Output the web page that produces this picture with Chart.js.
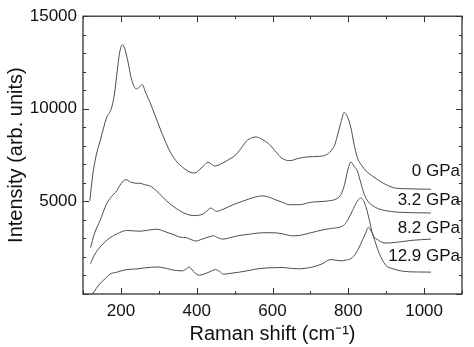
<!DOCTYPE html>
<html>
<head>
<meta charset="utf-8">
<script src="https://cdn.jsdelivr.net/npm/chart.js@4/dist/chart.umd.min.js"></script>
<style>
  html, body { margin: 0; padding: 0; background: #fff; }
  #wrap { width: 474px; height: 347px; }
</style>
</head>
<body>
<div id="wrap"><canvas id="raman"></canvas></div>
<script>
// ============================================
// DATA
// ============================================
const seriesNames = ['0 GPa', '3.2 GPa', '8.2 GPa', '12.9 GPa'];

const shift0 = [118,126,135,145,162,175,183,189,197,204,210,218,228,241,250,257,263,268,276,290,303,316,329,345,364,380,390,400,408,420,430,440,447,460,478,504,520,531,545,557,570,592,610,623,645,670,690,720,740,754,765,772,781,789,797,807,815,824,835,847,865,882,900,925,960,1000,1018];
const int0 = [5036,6480,7500,8250,9500,10030,10800,11820,13070,13460,13250,12600,11600,11070,11200,11300,11000,10750,10390,9650,8960,8300,7714,7200,6820,6600,6535,6570,6730,6950,7110,7000,6910,6980,7180,7536,7950,8250,8430,8480,8380,8070,7650,7360,7200,7330,7400,7430,7500,7714,8100,8610,9300,9800,9600,8964,8100,7360,6950,6640,6350,6107,5900,5714,5680,5660,5660];

const shift32 = [120,130,145,162,175,189,200,213,225,240,250,263,276,294,307,320,337,355,375,395,405,417,428,437,445,452,470,496,520,539,557,575,592,610,630,645,671,700,750,770,781,790,798,807,815,824,833,842,852,864,880,899,930,970,1018];
const int32 = [2500,3250,3964,4857,5250,5570,5950,6180,6050,5980,5980,5900,5840,5570,5300,5036,4750,4500,4300,4232,4250,4320,4500,4640,4550,4460,4580,4820,5000,5140,5250,5300,5220,5070,4920,4820,4820,4950,5036,5150,5390,5900,6640,7125,6900,6640,6000,5390,5000,4770,4600,4500,4420,4390,4375];

const shift82 = [120,130,145,160,171,190,215,250,270,294,320,340,355,365,374,385,399,412,425,435,445,455,469,490,513,540,566,590,610,630,653,671,700,732,755,776,790,800,811,822,832,840,847,856,864,880,899,930,970,1018];
const int82 = [1640,2100,2536,2850,3036,3250,3430,3390,3440,3500,3340,3200,3070,3050,3036,2940,2860,2950,3036,3100,3143,3050,2964,3050,3160,3230,3300,3310,3300,3230,3143,3160,3300,3460,3540,3600,3750,4050,4500,4950,5180,5050,4680,3950,3250,2900,2750,2800,2900,2964];

const shift129 = [125,135,145,160,171,190,215,240,263,298,320,338,362,372,380,388,395,408,420,434,450,460,471,490,513,540,566,600,627,650,671,690,706,730,754,781,795,807,820,829,838,845,853,860,864,872,882,899,920,943,980,1018];
const int129 = [0,300,570,850,1070,1180,1320,1350,1410,1460,1380,1290,1250,1350,1460,1300,1140,1018,1080,1196,1320,1220,1070,1120,1180,1280,1375,1420,1430,1380,1360,1400,1460,1620,1860,1790,1840,1910,2200,2536,2950,3250,3600,3400,3250,2750,2180,1550,1350,1230,1190,1180];

// intensity at which each pressure label sits (right-hand side)
const labelLevels = [6640, 5036, 3536, 2036];

const FONT = "'Liberation Sans', Arial, sans-serif";
const INK = '#333';

function toPoints(xs, ys) {
  return xs.map((x, i) => ({ x: x, y: ys[i] }));
}

// ============================================
// FRAME + INWARD TICKS + PRESSURE LABELS
// ============================================
const framePlugin = {
  id: 'frame',
  afterDraw(chart) {
    const { ctx, chartArea: a, scales } = chart;
    ctx.save();
    ctx.strokeStyle = INK;
    ctx.lineWidth = 1.3;
    ctx.strokeRect(a.left, a.top, a.right - a.left, a.bottom - a.top);

    ctx.lineWidth = 1;
    ctx.beginPath();
    scales.x.ticks.forEach(t => {
      const px = Math.round(scales.x.getPixelForValue(t.value)) + 0.5;
      const len = t.value % 200 === 0 ? 6 : 3;
      ctx.moveTo(px, a.bottom); ctx.lineTo(px, a.bottom - len);
      ctx.moveTo(px, a.top); ctx.lineTo(px, a.top + len);
    });
    scales.y.ticks.forEach(t => {
      const py = Math.round(scales.y.getPixelForValue(t.value)) + 0.5;
      const len = t.value % 5000 === 0 ? 6 : 3;
      ctx.moveTo(a.left, py); ctx.lineTo(a.left + len, py);
      ctx.moveTo(a.right, py); ctx.lineTo(a.right - len, py);
    });
    ctx.stroke();

    ctx.fillStyle = '#111';
    ctx.font = '17px ' + FONT;
    ctx.textAlign = 'right';
    ctx.textBaseline = 'middle';
    seriesNames.forEach((name, i) => {
      ctx.fillText(name, a.right - 2, scales.y.getPixelForValue(labelLevels[i]));
    });
    ctx.restore();
  }
};

// ============================================
// CHART
// ============================================
function initRamanChart() {
  const ctx = document.getElementById('raman');

  const data = {
    datasets: [
      { label: seriesNames[0], data: toPoints(shift0, int0) },
      { label: seriesNames[1], data: toPoints(shift32, int32) },
      { label: seriesNames[2], data: toPoints(shift82, int82) },
      { label: seriesNames[3], data: toPoints(shift129, int129) }
    ].map(ds => Object.assign(ds, {
      borderColor: '#4d4d4d',
      borderWidth: 1,
      pointRadius: 0,
      fill: false,
      cubicInterpolationMode: 'monotone'
    }))
  };

  new Chart(ctx, {
    type: 'line',
    data: data,
    plugins: [framePlugin],
    options: {
      responsive: true,
      maintainAspectRatio: false,
      animation: false,
      layout: { padding: { top: 14, right: 12, left: 0, bottom: 0 } },
      plugins: {
        legend: { display: false },
        tooltip: { enabled: false }
      },
      scales: {
        x: {
          type: 'linear',
          min: 100,
          max: 1100,
          afterFit: s => { s.height = 53; },
          grid: { display: false, drawTicks: false },
          border: { display: false },
          ticks: {
            stepSize: 100,
            autoSkip: false,
            maxRotation: 0,
            padding: 7,
            color: '#111',
            font: { family: FONT, size: 17 },
            callback: v => (v % 200 === 0 ? v : '')
          },
          title: {
            display: true,
            text: 'Raman shift (cm\u207B\u00B9)',
            color: '#111',
            font: { family: FONT, size: 20 },
            padding: { top: 0, bottom: 1 }
          }
        },
        y: {
          min: 0,
          max: 15000,
          afterFit: s => { s.width = 83; },
          grid: { display: false, drawTicks: false },
          border: { display: false },
          ticks: {
            stepSize: 1000,
            autoSkip: false,
            padding: 6,
            color: '#111',
            font: { family: FONT, size: 17 },
            callback: v => (v % 5000 === 0 && v > 0 ? v : '')
          },
          title: {
            display: true,
            text: 'Intensity (arb. units)',
            color: '#111',
            font: { family: FONT, size: 20 },
            padding: { top: 4, bottom: 0 }
          }
        }
      }
    }
  });
}

initRamanChart();
</script>
</body>
</html>
